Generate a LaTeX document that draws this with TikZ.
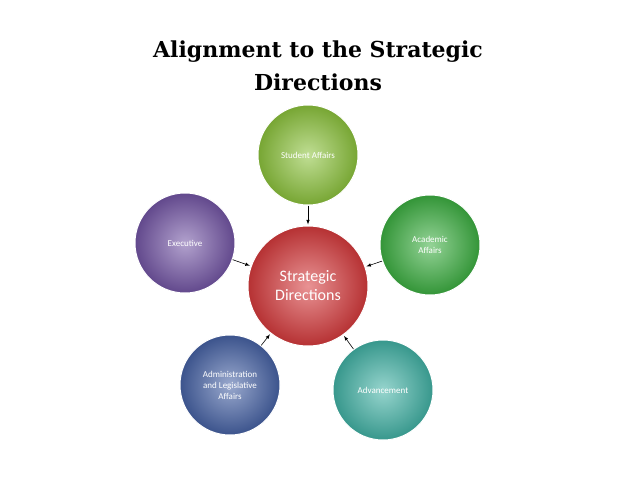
\documentclass[tikz,border=0pt]{standalone}
\usepackage{fontspec}
\setsansfont{Carlito}
\newfontfamily\titlefont{DejaVu Serif}
\usetikzlibrary{shapes, arrows, positioning}
\definecolor{redball}{RGB}{214,58,60}
\definecolor{limeball}{RGB}{140,195,60}
\definecolor{greenball}{RGB}{60,175,65}
\definecolor{purpleball}{RGB}{115,85,165}
\definecolor{blueball}{RGB}{70,98,165}
\definecolor{tealball}{RGB}{65,178,165}
\tikzstyle{o}    = [circle, draw=white, line width=1pt, minimum size=100pt, inner sep=2pt,
                    text=white, font=\sffamily\fontsize{9}{11}\selectfont, align=center]
\tikzset{ballof/.style={inner color=#1!55!white, outer color=#1!85!black}}
\tikzstyle{->}   = [draw, -latex, semithick, shorten >=1pt]

\begin{document}
\begin{tikzpicture}[x=1pt, y=-1pt]
\useasboundingbox (0,0) rectangle (638,493);

% title
\node [font=\titlefont\bfseries\fontsize{22}{33}\selectfont, align=center] (title) at (318,66)
      {Alignment to the Strategic\\Directions};

% hub
\node [o, ballof=redball, minimum size=120pt, font=\sffamily\fontsize{16}{19}\selectfont] (sd) at (308,286) {Strategic\\Directions};

% spokes
\node [o, ballof=limeball   ]  (sa) at (308,155) {Student Affairs};
\node [o, ballof=greenball  ]  (aa) at (430,245) {Academic\\Affairs};
\node [o, ballof=purpleball ]  (ex) at (185,243) {Executive};
\node [o, ballof=blueball   ]  (al) at (230,385) {Administration\\and Legislative\\Affairs};
\node [o, ballof=tealball   ]  (ad) at (383,390) {Advancement};

\path [->] (sa) edge (sd)
           (aa) edge (sd)
           (ex) edge (sd)
           (al) edge (sd)
           (ad) edge (sd);

\end{tikzpicture}
\end{document}
